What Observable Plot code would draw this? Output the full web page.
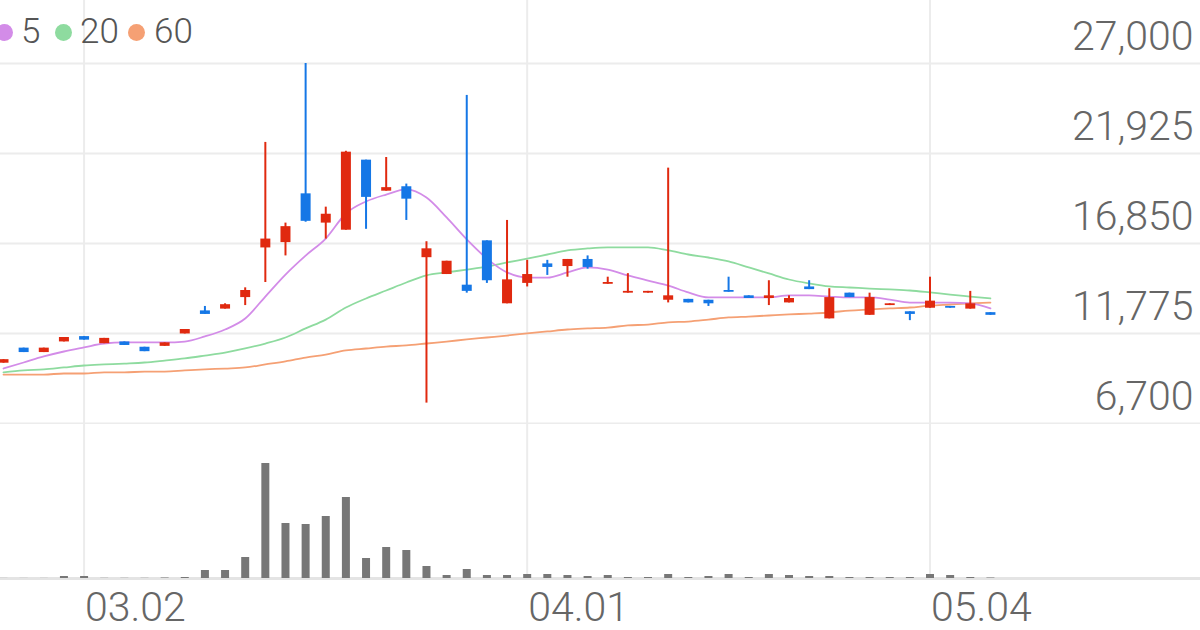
<!DOCTYPE html>
<html><head><meta charset="utf-8">
<script src="https://cdn.jsdelivr.net/npm/d3@7"></script>
<script src="https://cdn.jsdelivr.net/npm/@observablehq/plot@0.6"></script>
<style>
html,body{margin:0;padding:0;background:#fff;}
#wrap{position:relative;width:1200px;height:630px;overflow:hidden;font-family:Roboto,"Noto Sans",sans-serif;background:#fff;}
#wrap svg{display:block;}
.legend{position:absolute;top:14px;left:0;height:36px;font-size:35px;color:#555;font-family:Roboto,sans-serif;font-weight:300;}
.legend span{position:absolute;top:0;line-height:36px;}
.legend i{position:absolute;width:17px;height:17px;border-radius:50%;top:10px;}
</style></head>
<body><div id="wrap"><div id="chart"></div><div class="legend" id="legend"></div></div>
<script>
// ---- data ----
const dates = ["02.25","02.26","02.27","02.28","03.02","03.03","03.04","03.05","03.06","03.09","03.10","03.11","03.12","03.13","03.16","03.17","03.18","03.19","03.20","03.23","03.24","03.25","03.26","03.27","03.30","03.31","04.01","04.02","04.03","04.06","04.07","04.08","04.09","04.10","04.13","04.14","04.16","04.17","04.20","04.21","04.22","04.23","04.24","04.27","04.28","04.29","05.04","05.06","05.07","05.08"];
const tickLabels = ["03.02","04.01","05.04"];
const priceTicks = [6700, 11775, 16850, 21925, 27000];
const open  = [10100,10950,10700,11300,11600,11200,11300,11000,11050,11750,13050,13150,13800,16600,16900,19650,18000,17600,21550,19800,20050,16050,15100,14500,17000,13450,14600,15700,15550,15950,14550,14050,14050,13650,13700,13650,14200,13900,13750,13500,14400,12600,14050,12800,13350,13000,13200,13300,13150,12950];
const high  = [10300,10950,10950,11550,11600,11500,11300,11000,11250,12000,13300,13450,14350,22550,18000,27000,18900,22050,21550,21700,20200,16950,15850,25200,17000,18150,15900,15900,15950,16150,14950,15150,14150,21100,13700,13650,14950,13900,14750,13900,14750,14300,14050,14050,13450,13000,14950,13300,14150,12950];
const low   = [10100,10700,10700,11300,11400,11200,11100,10750,11050,11750,12850,13150,13350,14650,16150,18050,17100,17600,17650,19800,18150,7850,15100,14050,14600,13450,14400,15050,14950,15400,14550,14050,14050,13500,13500,13300,14100,13750,13350,13500,14250,12600,13800,12800,13350,12500,13200,13200,13150,12800];
const close = [10300,10700,10950,11550,11400,11500,11100,10750,11250,12000,12850,13400,14200,17100,17800,18100,18500,22000,19450,20000,19350,16550,15850,14150,14750,14800,15100,15500,15950,15500,14650,14150,14150,13900,13500,13450,14100,13750,13900,13750,14250,13800,13800,13800,13450,12850,13600,13200,13450,12800];
const ma5  = [9800,10140,10480,10760,10990,11210,11270,11270,11270,11320,11610,12000,12620,13860,15100,16170,17130,18540,19220,19610,19900,19440,18320,17080,16000,15220,14930,14930,15220,15500,15380,15050,14760,14480,14090,13810,13810,13810,13810,13920,13920,13860,13810,13810,13690,13520,13520,13520,13470,13190];
const ma20 = [9580,9690,9750,9860,9970,10030,10080,10140,10250,10370,10530,10700,10930,11210,11550,12060,12560,13240,13750,14200,14650,15050,15220,15380,15550,15780,16000,16230,16460,16570,16630,16630,16630,16460,16230,16060,15840,15500,15160,14820,14600,14430,14370,14310,14260,14200,14090,13970,13860,13750];
const ma60 = [9460,9460,9460,9520,9520,9580,9580,9630,9630,9690,9750,9800,9860,10030,10200,10420,10590,10820,10930,11040,11100,11210,11320,11440,11550,11660,11780,11890,12000,12060,12110,12230,12280,12400,12450,12560,12680,12730,12790,12850,12900,12960,13070,13130,13190,13240,13350,13410,13470,13520];
const volume = [1000,1000,1000,20000,20000,2000,2000,2000,5000,10000,80000,80000,210000,1150000,550000,540000,620000,810000,200000,310000,280000,120000,30000,90000,30000,30000,40000,40000,30000,20000,30000,10000,10000,40000,10000,20000,40000,10000,40000,30000,20000,20000,10000,10000,10000,10000,40000,30000,10000,5000];
const maPeriods = [5, 20, 60];

// ---- styles ----
const maColors = ["#d38ce8", "#8edb9f", "#f5a074"];
const UP = "#e0290f", DOWN = "#1577e6", GRID = "#ececec", TXT = "#666";
const FONT = "Roboto, 'Noto Sans', sans-serif";

const idx = dates.map((d, i) => i);
const tickIdx = tickLabels.map(t => dates.indexOf(t));
const xDomain = [-0.149, 59.43];
const colorOf = i => close[i] >= open[i] ? UP : DOWN;
const maSeries = [ma5, ma20, ma60];

const priceChart = Plot.plot({
  width: 1200, height: 424, margin: 0,
  style: {background: "transparent"},
  x: {type: "linear", domain: xDomain, axis: null},
  y: {domain: [6700, 27000], range: [423, 63], axis: null},
  marks: [
    Plot.ruleX(tickIdx, {x: d => d, stroke: GRID, strokeWidth: 2}),
    Plot.ruleY(priceTicks, {y: d => d, stroke: GRID, strokeWidth: 2}),
    ...[2, 1, 0].map(k => Plot.line(idx, {x: i => i, y: i => maSeries[k][i], stroke: maColors[k], strokeWidth: 1.8, curve: "monotone-x"})),
    Plot.ruleX(idx, {x: i => i, y1: i => low[i], y2: i => high[i], stroke: colorOf, strokeWidth: 2}),
    Plot.ruleX(idx, {x: i => i, y1: i => open[i], y2: i => close[i], stroke: colorOf, strokeWidth: 10}),
    Plot.text(priceTicks, {y: d => d, text: d => d3.format(",")(d), frameAnchor: "right", textAnchor: "end", lineAnchor: "middle", dx: -7, dy: -27, fontSize: 41, fontWeight: 300, fill: TXT, fontFamily: FONT})
  ]
});

const volChart = Plot.plot({
  width: 1200, height: 206, marginTop: 0, marginBottom: 52, marginLeft: 0, marginRight: 0,
  style: {background: "transparent"},
  x: {type: "linear", domain: xDomain, axis: null},
  y: {domain: [0, 1150000], range: [154, 39], axis: null},
  marks: [
    Plot.ruleX(tickIdx, {x: d => d, stroke: GRID, strokeWidth: 2}),
    Plot.ruleY([0], {stroke: "#e4e4e4", strokeWidth: 3}),
    Plot.ruleX(idx, {x: i => i, y1: 0, y2: i => volume[i], stroke: "#777", strokeWidth: 8}),
    Plot.text(tickIdx, {x: d => d, text: d => dates[d], frameAnchor: "bottom", textAnchor: "start", lineAnchor: "middle", dx: 1, dy: 29, fontSize: 41, fontWeight: 300, fill: TXT, fontFamily: FONT})
  ]
});

const chart = document.getElementById("chart");
chart.appendChild(priceChart);
chart.appendChild(volChart);

// legend
const legend = document.getElementById("legend");
const dotLeft = [-4, 55, 128];
const textLeft = [21, 80, 154];
maPeriods.forEach((p, k) => {
  const dot = document.createElement("i");
  dot.style.left = dotLeft[k] + "px";
  dot.style.background = maColors[k];
  legend.appendChild(dot);
  const s = document.createElement("span");
  s.style.left = textLeft[k] + "px";
  s.textContent = p;
  legend.appendChild(s);
});
</script>
</body></html>
